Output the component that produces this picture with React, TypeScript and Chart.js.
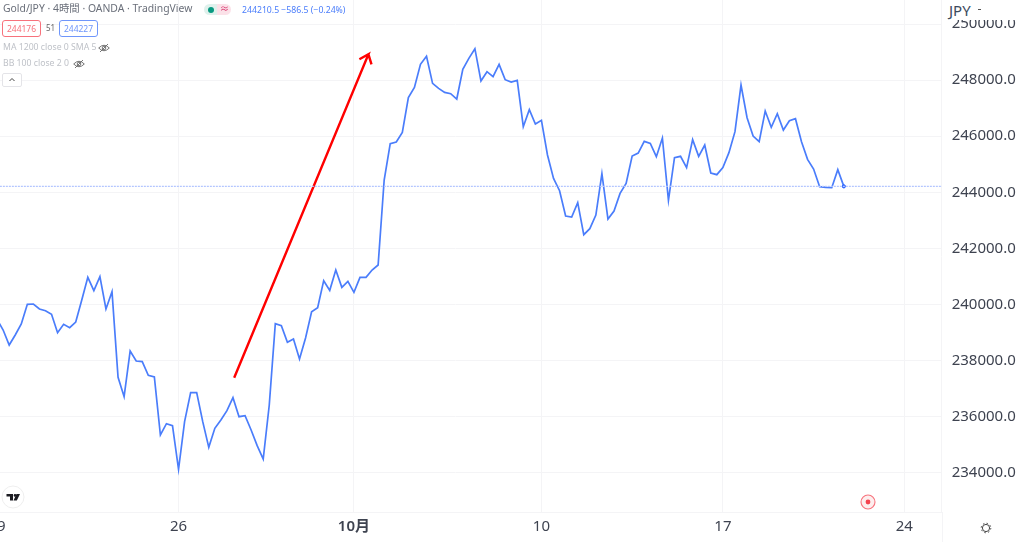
import { useEffect, useRef } from "react";
import type { CSSProperties } from "react";
import { Chart, registerables } from "chart.js";

Chart.register(...registerables);

// 4h closes, one value per bar
const closes = [
  239468, 239088, 238553, 238910, 239302, 240003, 240015, 239837, 239777, 239647,
  238993, 239290, 239171, 239373, 240158, 240966, 240491, 240990, 239837, 240455,
  237400, 236710, 238339, 237982, 237959, 237471, 237412, 235344, 235748, 235676,
  234119, 235819, 236853, 236853, 235819, 234904, 235581, 235879, 236211, 236675,
  235997, 236033, 235522, 234963, 234488, 236413, 239314, 239243, 238648, 238767,
  238054, 238803, 239741, 239884, 240847, 240502, 241227, 240609, 240823, 240431,
  240966, 240966, 241227, 241406, 244437, 245732, 245792, 246137, 247373, 247741,
  248562, 248847, 247884, 247706, 247563, 247516, 247325, 248383, 248776, 249120,
  247967, 248300, 248122, 248562, 248015, 247932, 247991, 246339, 246945, 246434,
  246564, 245328, 244496, 244056, 243153, 243117, 243628, 242487, 242701, 243189,
  244662, 243046, 243331, 243961, 244318, 245293, 245399, 245816, 245744, 245269,
  245934, 243712, 245233, 245281, 244877, 245875, 245281, 245685, 244686, 244627,
  244877, 245411, 246160, 247824, 246660, 246006, 245804, 246897, 246315, 246802,
  246220, 246553, 246624, 245804, 245174, 244829, 244199, 244175, 244163, 244805,
  244210.5,
];

const lastPrice = 244210.5;
const priceTicks = [234000, 236000, 238000, 240000, 242000, 244000, 246000, 248000, 250000];
const dateTickBars = [0, 30, 59, 90, 120, 150];
const dateTickLabels = ["19", "26", "10月", "10", "17", "24"];

// the hand drawn red arrow, in bar index / price
const arrowBars = [39.2, 61.4, 59.9, 61.4, 61.9];
const arrowPrices = [237388, 248920, 248741, 248920, 248563];

const BLUE = "#4a7dfb";
const GRID = "#f4f4f6";
const TEXT = "#3e4350";
const FONT = '"Noto Sans", "Noto Sans CJK JP", sans-serif';

function EyeOff({ left, top }: { left: number; top: number }) {
  return (
    <svg width="12" height="10" viewBox="0 0 12 10" style={{ position: "absolute", left, top }}>
      <path d="M0.7 5 Q6 -0.5 11.3 5 Q6 10.5 0.7 5 Z" fill="none" stroke="#666" strokeWidth="0.9" />
      <circle cx="6" cy="5" r="1.8" fill="none" stroke="#666" strokeWidth="0.9" />
      <path d="M2 9 L10 1" stroke="#666" strokeWidth="0.9" />
    </svg>
  );
}

const textAt = (left: number, top: number, size: number, color: string): CSSProperties => ({
  position: "absolute",
  left,
  top,
  fontSize: size,
  lineHeight: `${size + 2}px`,
  color,
  whiteSpace: "nowrap",
});

const priceBox = (left: number, color: string): CSSProperties => ({
  position: "absolute",
  left,
  top: 20,
  width: 39,
  height: 17,
  boxSizing: "border-box",
  border: `1px solid ${color}`,
  borderRadius: 3,
  color,
  fontSize: 8.5,
  lineHeight: "15px",
  textAlign: "center",
  background: "#fff",
});

export default function App() {
  const canvasRef = useRef<HTMLCanvasElement | null>(null);

  useEffect(() => {
    if (!canvasRef.current) return;
    const ctx = canvasRef.current.getContext("2d");
    if (!ctx) return;

    const chart = new Chart(ctx, {
      type: "line",
      data: {
        datasets: [
          {
            data: [
              { x: -5, y: lastPrice },
              { x: 157, y: lastPrice },
            ],
            borderColor: "#b4c6ff",
            borderWidth: 1.2,
            borderDash: [2, 1],
            pointRadius: 0,
          },
          {
            data: closes.map((y, x) => ({ x, y })),
            borderColor: BLUE,
            borderWidth: 1.7,
            pointBackgroundColor: "#2962ff",
            pointBorderColor: "#2962ff",
            pointBorderWidth: 1,
            pointRadius: (c: any) => (c.dataIndex === closes.length - 1 ? 1.6 : 0),
          },
          {
            data: arrowBars.map((x, i) => ({ x, y: arrowPrices[i] })),
            borderColor: "#ff0000",
            borderWidth: 2.4,
            borderJoinStyle: "miter",
            pointRadius: 0,
          },
        ],
      },
      options: {
        responsive: false,
        animation: false,
        events: [],
        layout: { padding: 0, autoPadding: false },
        plugins: { legend: { display: false }, tooltip: { enabled: false } },
        scales: {
          x: {
            type: "linear",
            min: -4.48,
            max: 156.18,
            afterBuildTicks: (axis: any) => {
              axis.ticks = dateTickBars.map((value) => ({ value }));
            },
            afterFit: (axis: any) => {
              axis.height = 30;
              axis.paddingLeft = 0;
              axis.paddingRight = 0;
            },
            grid: { color: GRID, drawTicks: false },
            border: { color: GRID },
            ticks: {
              autoSkip: false,
              maxRotation: 0,
              padding: 6,
              color: TEXT,
              font: (c: any) => ({
                family: FONT,
                size: 15,
                weight: c.tick && c.tick.value === 59 ? "600" : "normal",
              }),
              callback: (v: any) => dateTickLabels[dateTickBars.indexOf(Number(v))],
            },
          },
          y: {
            position: "right",
            min: 232598,
            max: 250856,
            afterBuildTicks: (axis: any) => {
              axis.ticks = priceTicks.map((value) => ({ value }));
            },
            afterFit: (axis: any) => {
              axis.width = 82.3;
              axis.paddingTop = 0;
              axis.paddingBottom = 0;
            },
            grid: { color: GRID, drawTicks: false },
            border: { color: GRID },
            ticks: {
              padding: 10,
              color: TEXT,
              font: { family: FONT, size: 15 },
              callback: (v: any) => Number(v).toFixed(1),
            },
          },
        },
      },
    });

    return () => chart.destroy();
  }, []);

  return (
    <div
      style={{
        position: "fixed",
        left: 0,
        top: 0,
        width: 1024,
        height: 542,
        overflow: "hidden",
        background: "#fff",
        fontFamily: FONT,
      }}
    >
      <canvas ref={canvasRef} width={1054} height={542} style={{ position: "absolute", left: -30, top: 0 }} />

      <div style={textAt(3, 2, 10.4, "#6a6f7a")}>Gold/JPY · 4時間 · OANDA · TradingView</div>
      <div style={{ position: "absolute", left: 204, top: 4, width: 27, height: 11, borderRadius: 6, background: "linear-gradient(90deg,#dff1ec 50%,#fbe1e8 50%)" }}>
        <div style={{ position: "absolute", left: 4, top: 2.5, width: 6, height: 6, borderRadius: 3, background: "#089981" }} />
        <div style={{ position: "absolute", left: 16, top: -2, fontSize: 9, lineHeight: "14px", color: "#d6336c" }}>≈</div>
      </div>
      <div style={textAt(242, 5, 8.7, "#4a7dfb")}>244210.5 −586.5 (−0.24%)</div>

      <div style={priceBox(2, "#f7727c")}>244176</div>
      <div style={textAt(46, 23, 8, "#666")}>51</div>
      <div style={priceBox(59, "#6f96fb")}>244227</div>

      <div style={textAt(3, 42, 8.7, "#bfc2c8")}>MA 1200 close 0 SMA 5</div>
      <EyeOff left={98} top={43} />
      <div style={textAt(3, 58, 8.7, "#bfc2c8")}>BB 100 close 2 0</div>
      <EyeOff left={73} top={59} />
      <div style={{ position: "absolute", left: 2, top: 73, width: 20, height: 14, boxSizing: "border-box", border: "1px solid #e4e4e8", borderRadius: 2, background: "#fff" }}>
        <svg width="18" height="12" viewBox="0 0 18 12" style={{ display: "block" }}>
          <path d="M6.5 7 L9 4.5 L11.5 7" fill="none" stroke="#444" strokeWidth="1" />
        </svg>
      </div>

      {/* covers the top half of the 250000.0 label, as the currency button does */}
      <div style={{ position: "absolute", left: 943, top: 0, width: 81, height: 20, background: "#fff" }} />
      <div style={textAt(949, 2, 15, "#3b4a5e")}>JPY</div>
      <div style={{ position: "absolute", left: 978, top: 9, width: 3, height: 1, background: "#555" }} />
      <div style={{ position: "absolute", left: 941.5, top: 512, width: 1, height: 30, background: GRID }} />

      {/* TradingView mark */}
      <svg width="24" height="24" viewBox="0 0 24 24" style={{ position: "absolute", left: 1, top: 485 }}>
        <circle cx="12" cy="12" r="11" fill="#fff" stroke="#eeeeee" />
        <path d="M5.5 9 H12 V15.5 H9 V11.5 H5.5 Z M15.5 9 H19 L15.8 15.5 H12.5 Z" fill="#1c1c22" />
        <circle cx="14" cy="10.4" r="1.3" fill="#1c1c22" />
      </svg>

      {/* earnings marker */}
      <svg width="18" height="18" viewBox="0 0 18 18" style={{ position: "absolute", left: 858.5, top: 493 }}>
        <circle cx="9" cy="9" r="7" fill="#fdeeee" stroke="#f7737d" strokeWidth="1.1" />
        <circle cx="9" cy="9" r="2.4" fill="#f4434f" />
      </svg>

      {/* settings gear */}
      <svg width="14" height="14" viewBox="0 0 14 14" style={{ position: "absolute", left: 978.5, top: 521 }}>
        <circle cx="7" cy="7" r="3.6" fill="none" stroke="#444" strokeWidth="1" />
        <circle cx="7" cy="7" r="4.8" fill="none" stroke="#444" strokeWidth="1" strokeDasharray="1.5 2.27" />
      </svg>
    </div>
  );
}
